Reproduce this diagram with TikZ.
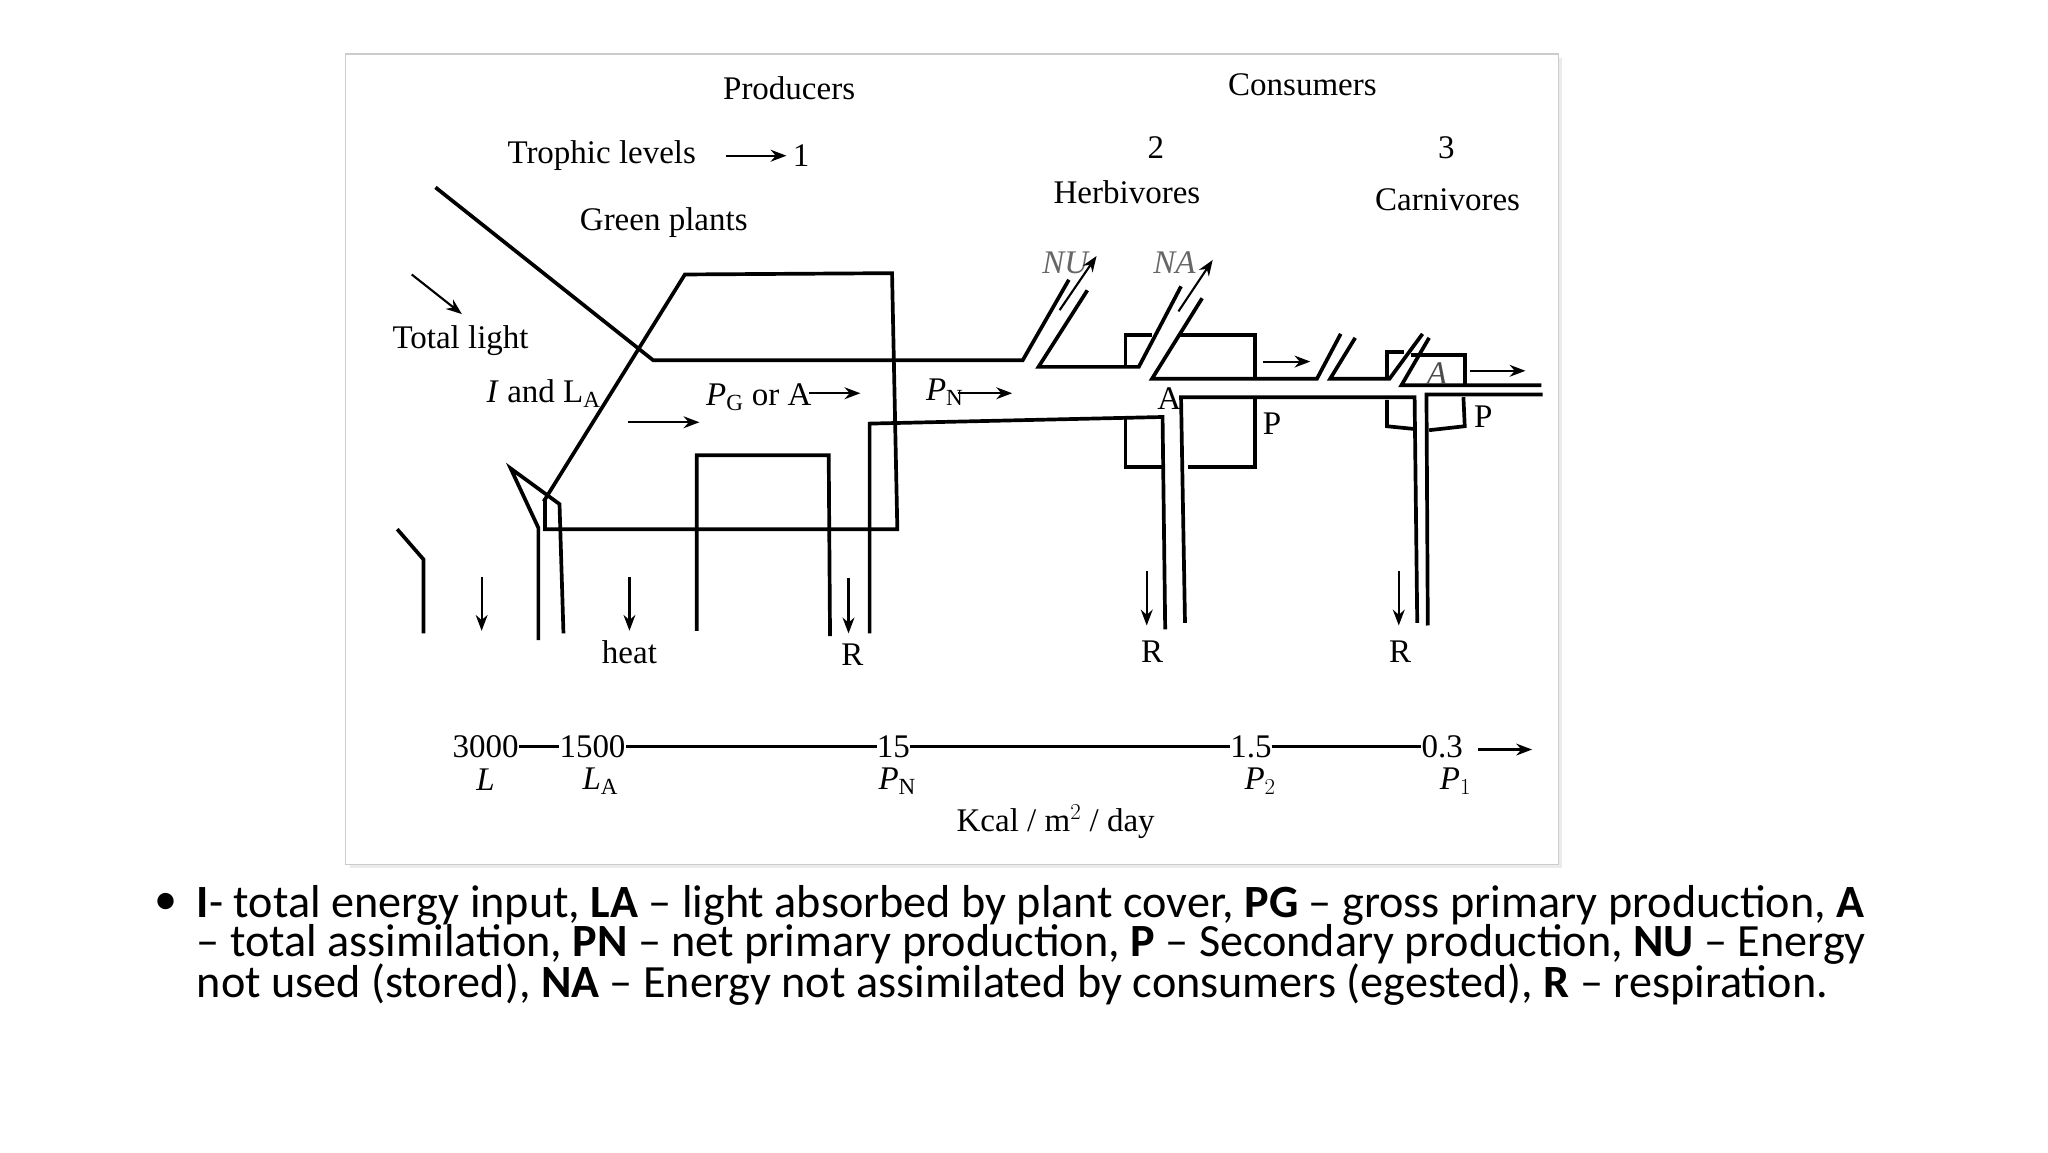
\documentclass[tikz,border=0pt]{standalone}
\usepackage{fontspec}
\setmainfont{Liberation Serif}
\newfontfamily\calibrifont{Carlito}
\usetikzlibrary{arrows.meta}
\begin{document}
\begin{tikzpicture}[x=1pt,y=-1pt,
  ln/.style={line width=2.8pt,line join=miter},
  ar/.style={line width=1.6pt,-{Stealth[length=12pt,width=9pt]}},
  lb/.style={font=\fontsize{25}{27}\selectfont,inner sep=0pt},
  bt/.style={font=\calibrifont\fontsize{35}{30}\selectfont,inner sep=0pt,anchor=west}]
\useasboundingbox (0,0) rectangle (1552,873);
\fill[black!8] (265,44) rectangle (1184,658);
\draw[black!20,fill=white,line width=1pt] (262,41) rectangle (1181,655);
% headings
\node[lb] (prod) at (598,67) {Producers};
\node[lb] (cons) at (987,64) {Consumers};
\node[lb] (tl) at (456,118) {Trophic levels};
\node[lb] (one) at (607,118) {1};
\draw[ar] (550,118) -- (596,118);
\node[lb] (two) at (876,112) {2};
\node[lb] (herb) at (854,146) {Herbivores};
\node[lb] (three) at (1096,112) {3};
\node[lb] (carn) at (1097,151) {Carnivores};
\node[lb] (gp) at (503,169) {Green plants};
\draw[ar] (312,208) -- (350,238);
\node[lb] (tot) at (349,258) {Total light};
\node[lb] (ila) at (412,298) {\textit{I} and L$_{\mathrm{A}}$};
\draw[ar] (476,320) -- (530,320);
\node[lb] (pg) at (575,301) {\textit{P}$_{\mathrm{G}}$ or A};
\draw[ar] (613,298) -- (652,298);
\node[lb] (pn) at (716,297) {\textit{P}$_{\mathrm{N}}$};
\draw[ar] (726,298) -- (767,298);
\node[lb,text=black!60] (nu) at (808,199) {\textit{NU}};
\node[lb,text=black!60] (na) at (890,199) {\textit{NA}};
% producers
\draw[ln] (330,142) -- (495,273) -- (775,273) -- (810,212);
\draw[ln] (824,220) -- (787,278) -- (863,278) -- (895,217);
\draw[ar] (803,235) -- (831,194);
\draw[ln] (412,380) -- (519,208) -- (676,207) -- (680,401) -- (413,401) -- (413,378);
\draw[ln] (408,485) -- (408,400) -- (387,355) -- (424,382) -- (427,480);
\draw[ln] (301,401) -- (321,424) -- (321,480);
\draw[ar] (365,437) -- (365,478);
\draw[ar] (477,437) -- (477,478);
\node[lb] (heat) at (477,494) {heat};
\draw[ln] (528,478) -- (528,345) -- (628,345) -- (629,482);
\draw[ar] (643,438) -- (643,480);
\node[lb] (r1) at (646,496) {R};
\draw[ln] (659,480) -- (659,321) -- (881,316) -- (883,477);
% herbivores
\draw[ln] (853,278) -- (853,254) -- (873,254);
\draw[ln] (911,226) -- (873,287) -- (998,287) -- (1016,253);
\draw[ln] (894,254) -- (951,254) -- (951,287);
\draw[ar] (893,236) -- (919,197);
\node[lb] (a1) at (886,302) {A};
\draw[ln] (853,316) -- (853,354) -- (881,354);
\draw[ln] (898,472) -- (895,301) -- (1072,301) -- (1074,472);
\draw[ln] (900,354) -- (951,354) -- (951,301);
\node[lb] (p1) at (964,321) {P};
\draw[ar] (869,433) -- (869,474);
\node[lb] (r2) at (873,494) {R};
\draw[ar] (957,274) -- (993,274);
% carnivores
\draw[ln] (1027,256) -- (1008,287) -- (1053,287) -- (1078,253);
\draw[ln] (1051,287) -- (1051,267) -- (1064,267);
\draw[ln] (1083,256) -- (1062,292) -- (1168,292);
\draw[ln] (1069,269) -- (1110,269) -- (1110,292);
\node[lb,text=black!70] (a2) at (1089,283) {\textit{A}};
\draw[ar] (1114,281) -- (1156,281);
\draw[ln] (1082,474) -- (1081,299) -- (1169,299);
\draw[ln] (1051,303) -- (1051,323) -- (1071,325);
\draw[ln] (1083,326) -- (1110,323) -- (1109,301);
\node[lb] (p2) at (1124,316) {P};
\draw[ar] (1060,433) -- (1060,474);
\node[lb] (r3) at (1061,494) {R};
% scale
\node[lb] (s1) at (368,566) {3000};
\node[lb] (s1l) at (368,591) {\textit{L}};
\node[lb] (s2) at (449,566) {1500};
\node[lb] (s2l) at (455,592) {\textit{L}$_{\mathrm{A}}$};
\node[lb] (s3) at (677,566) {15};
\node[lb] (s3l) at (680,592) {\textit{P}$_{\mathrm{N}}$};
\node[lb] (s4) at (948,566) {1.5};
\node[lb] (s4l) at (955,592) {\textit{P}$_{2}$};
\node[lb] (s5) at (1093,566) {0.3};
\node[lb] (s5l) at (1103,592) {\textit{P}$_{1}$};
\draw[line width=2.4pt] (s1) -- (s2);
\draw[line width=2.4pt] (s2) -- (s3);
\draw[line width=2.4pt] (s3) -- (s4);
\draw[line width=2.4pt] (s4) -- (s5);
\draw[ar] (1120,568) -- (1161,568);
\node[lb] (unit) at (800,623) {Kcal / m$^{2}$ / day};
% bullet text
\node[bt] (bul) at (117,685) {•};
\node[bt] (t1) at (149,686) {\textbf{I}- total energy input, \textbf{LA} – light absorbed by plant cover, \textbf{PG} – gross primary production, \textbf{A}};
\node[bt] (t2) at (149,716) {– total assimilation, \textbf{PN} – net primary production, \textbf{P} – Secondary production, \textbf{NU} – Energy};
\node[bt] (t3) at (149,746) {not used (stored), \textbf{NA} – Energy not assimilated by consumers (egested), \textbf{R} – respiration.};
\end{tikzpicture}
\end{document}
